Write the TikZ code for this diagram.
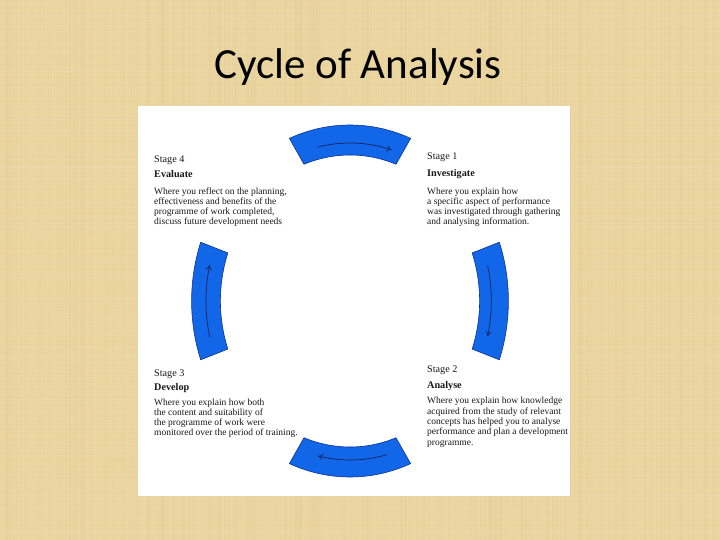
\documentclass[tikz,border=0pt]{standalone}
\usepackage{fontspec}
\setmainfont{Liberation Serif}
\newfontfamily\titlefont{Carlito}
\usetikzlibrary{arrows.meta}
\definecolor{bgtan}{RGB}{236,214,160}
\definecolor{bgdark}{RGB}{200,170,110}
\definecolor{bglight}{RGB}{250,238,205}
\definecolor{arcblue}{RGB}{18,102,232}
\definecolor{arcedge}{RGB}{12,50,150}
\definecolor{arrowink}{RGB}{20,35,90}
\definecolor{inktext}{RGB}{25,25,25}
\begin{document}
\begin{tikzpicture}[x=1pt,y=-1pt,
  blockarc/.style={fill=arcblue, draw=arcedge, line width=0.6pt, line join=round},
  cyclearrow/.style={draw=arrowink, line width=0.7pt, -{To[length=5pt,width=6pt]}},
  txt/.style={anchor=base west, inner sep=0pt, font=\fontsize{9.5}{10.2}\selectfont, text=inktext},
  txtl/.style={txt, font=\fontsize{10.2}{11}\selectfont},
  txtb/.style={txt, font=\fontsize{10.2}{11}\selectfont\bfseries},
]
\useasboundingbox (0,0) rectangle (720,540);
\fill[bgtan] (0,0) rectangle (720,540);
\pgfmathsetseed{42}
\foreach \i in {0,2,...,718} {
  \pgfmathsetmacro{\op}{0.03+0.13*rnd}
  \pgfmathsetmacro{\lw}{0.4+0.9*rnd}
  \draw[draw=bgdark, line width=\lw pt, opacity=\op] (\i,0) -- (\i,540);
}
\foreach \j in {1,3,...,539} {
  \pgfmathsetmacro{\op}{0.05+0.15*rnd}
  \draw[draw=bglight, line width=0.7pt, opacity=\op] (0,\j) -- (720,\j);
}
\fill[white] (138,106) rectangle (569.5,495.5);
\node[font=\titlefont\fontsize{43}{43}\selectfont, anchor=base, inner sep=0pt] (title) at (358,79) {Cycle of Analysis};

\begin{scope}[shift={(350,301)}, yscale=-1, xscale=0.9]
  % top
  \draw[blockarc] plot[domain=67.5:112.5, samples=40] (\x:176) -- plot[domain=110.5:69.5, samples=40] (\x:146) -- cycle;
  % right
  \draw[blockarc] plot[domain=-19.5:19.5, samples=40] (\x:176) -- plot[domain=19.5:-19.5, samples=40] (\x:144) -- cycle;
  % bottom
  \draw[blockarc] plot[domain=247.5:292.5, samples=40] (\x:176) -- plot[domain=290.5:249.5, samples=40] (\x:146) -- cycle;
  % left
  \draw[blockarc] plot[domain=160.5:199.5, samples=40] (\x:176) -- plot[domain=199.5:160.5, samples=40] (\x:144) -- cycle;
  % arrows
  \draw[cyclearrow] plot[domain=103:73, samples=40] (\x:158);
  \draw[cyclearrow] plot[domain=13:-13, samples=40] (\x:157);
  \draw[cyclearrow] plot[domain=285:257, samples=40] (\x:159);
  \draw[cyclearrow] plot[domain=193:167, samples=40] (\x:160);
\end{scope}

% Stage 4
\node[txtl] (s4a) at (154,162.3) {Stage 4};
\node[txtb] (s4b) at (154,177.3) {Evaluate};
\node[txt] (s4c) at (154,194.7) {Where you reflect on the planning,};
\node[txt] (s4d) at (154,204.7) {effectiveness and benefits of the};
\node[txt] (s4e) at (154,214.7) {programme of work completed,};
\node[txt] (s4f) at (154,224.5) {discuss future development needs};
% Stage 1
\node[txtl] (s1a) at (427,159.7) {Stage 1};
\node[txtb] (s1b) at (427,177) {Investigate};
\node[txt] (s1c) at (427,194.7) {Where you explain how};
\node[txt] (s1d) at (427,204.7) {a specific aspect of performance};
\node[txt] (s1e) at (427,214.4) {was investigated through gathering};
\node[txt] (s1f) at (427,224.2) {and analysing information.};
% Stage 3
\node[txtl] (s3a) at (154,376) {Stage 3};
\node[txtb] (s3b) at (154,390) {Develop};
\node[txt] (s3c) at (154,405) {Where you explain how both};
\node[txt] (s3d) at (154,415) {the content and suitability of};
\node[txt] (s3e) at (154,425) {the programme of work were};
\node[txt] (s3f) at (154,435.5) {monitored over the period of training.};
% Stage 2
\node[txtl] (s2a) at (427,372) {Stage 2};
\node[txtb] (s2b) at (427,388) {Analyse};
\node[txt] (s2c) at (427,403.7) {Where you explain how knowledge};
\node[txt] (s2d) at (427,414) {acquired from the study of relevant};
\node[txt] (s2e) at (427,424) {concepts has helped you to analyse};
\node[txt] (s2f) at (427,434) {performance and plan a development};
\node[txt] (s2g) at (427,445) {programme.};
\end{tikzpicture}
\end{document}
